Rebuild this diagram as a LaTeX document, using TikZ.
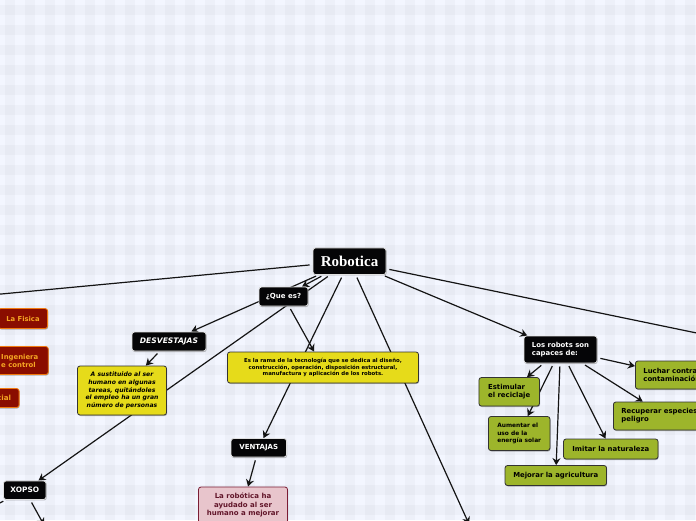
\documentclass[tikz,border=0pt]{standalone}
\usepackage{fontspec}
\setmainfont{DejaVu Sans}
\newfontfamily\rootfont{Liberation Serif}
\usetikzlibrary{arrows.meta,backgrounds,shadows}
\definecolor{plaidbase}{HTML}{F3F6FF}
\definecolor{darkbox}{HTML}{050507}
\definecolor{yellowbox}{HTML}{E6DB1A}
\definecolor{greenbox}{HTML}{9DB52B}
\definecolor{redbox}{HTML}{8A0D00}
\definecolor{redline}{HTML}{F07A10}
\definecolor{redtext}{HTML}{F5A623}
\definecolor{pinkbox}{HTML}{E8C5CC}
\definecolor{pinkline}{HTML}{7A1C34}
\tikzset{
  box/.style={rounded corners=2.5pt,line width=.8pt,inner sep=0pt,align=center,
    drop shadow={shadow xshift=.6pt,shadow yshift=-1pt,opacity=.28,fill=black}},
  blackbox/.style={box,fill=darkbox,draw=white!88!black,text=white},
  yellow box/.style={box,fill=yellowbox,draw=black!80,text=black},
  green box/.style={box,fill=greenbox,draw=black!80,text=black},
  red box/.style={box,fill=redbox,draw=redline,text=redtext},
  pink box/.style={box,fill=pinkbox,draw=pinkline,text=pinkline!80!black},
  smalltext/.style={font=\fontsize{7}{8.6}\selectfont\bfseries},
  conn/.style={draw=black!92,line width=1.2pt,-{Stealth[length=7pt,width=8pt]}},
  plain conn/.style={draw=black!92,line width=1.2pt},
  gap/.style={shorten <=3pt}
}
\begin{document}
\begin{tikzpicture}[x=1pt,y=-1pt]
\useasboundingbox (0,0) rectangle (696,520);
% nodes
\node[blackbox,minimum width=73pt,minimum height=26.5pt,font=\rootfont\fontsize{15}{17}\selectfont\bfseries] (root) at (349.5,261.2) {Robotica};
\node[blackbox,minimum width=49pt,minimum height=19pt,smalltext] (que) at (283.5,296.5) {¿Que es?};
\node[yellow box,minimum width=191pt,minimum height=31pt,font=\fontsize{5.4}{6.8}\selectfont\bfseries] (def) at (323,367.5) {Es la rama de la tecnología que se dedica al diseño,\\construcción, operación, disposición estructural,\\manufactura y aplicación de los robots.};
\node[blackbox,minimum width=74pt,minimum height=19pt,font=\fontsize{7.6}{8}\selectfont\bfseries\itshape] (desv) at (169,341.5) {DESVESTAJAS};
\node[yellow box,minimum width=89pt,minimum height=49pt,font=\fontsize{6.1}{7.6}\selectfont\bfseries\itshape] (sust) at (122,390.5) {A sustituido al ser\\humano en algunas\\tareas, quitándoles\\el empleo ha un gran\\número de personas};
\node[blackbox,minimum width=55.5pt,minimum height=18.5pt,smalltext] (vent) at (258.8,447.8) {VENTAJAS};
\node[pink box,minimum width=89pt,minimum height=36pt,font=\fontsize{7}{8.2}\selectfont\bfseries] (rob) at (243,505) {La robótica ha\\ayudado al ser\\humano a mejorar};
\node[blackbox,minimum width=42.5pt,minimum height=18.5pt,font=\fontsize{7.4}{8.6}\selectfont\bfseries] (xopso) at (24.8,490.2) {XOPSO};
\node[red box,anchor=east,minimum height=20pt,inner xsep=8pt,font=\fontsize{6.8}{8.6}\selectfont\bfseries] (fis) at (48,318.5) {La Fisica};
\node[red box,anchor=east,minimum height=28pt,inner xsep=10pt,align=left,font=\fontsize{6.9}{8}\selectfont\bfseries] (ing) at (48.7,360.5) {Ingeniera\\e control};
\node[red box,anchor=east,minimum height=19pt,inner xsep=8pt,font=\fontsize{7.1}{8.6}\selectfont\bfseries] (cial) at (19.5,398) {cial};
\node[blackbox,minimum width=73pt,minimum height=27pt,font=\fontsize{6.9}{8.2}\selectfont\bfseries,align=left] (los) at (560.5,349.5) {Los robots son\\capaces de:};
\node[green box,anchor=west,minimum height=28pt,inner xsep=8pt,align=left,font=\fontsize{6.9}{8.2}\selectfont\bfseries] (luc) at (635,375) {Luchar contra la\\contaminación};
\node[green box,anchor=west,minimum height=28pt,inner xsep=8pt,align=left,font=\fontsize{6.9}{8.2}\selectfont\bfseries] (rec) at (613,416) {Recuperar especies en\\peligro};
\node[green box,minimum width=60.5pt,minimum height=28.5pt,font=\fontsize{6.9}{8.6}\selectfont\bfseries,align=left] (est) at (509.2,391.8) {Estimular\\el reciclaje};
\node[green box,minimum width=61.5pt,minimum height=34pt,font=\fontsize{5.9}{7.4}\selectfont\bfseries,align=left] (aum) at (519.2,433.5) {Aumentar el\\uso de la\\energía solar};
\node[green box,minimum width=94.5pt,minimum height=20pt,font=\fontsize{6.9}{8}\selectfont\bfseries] (imi) at (610.8,449) {Imitar la naturaleza};
\node[green box,minimum width=101.5pt,minimum height=20pt,font=\fontsize{6.9}{8}\selectfont\bfseries] (mej) at (555.8,475.5) {Mejorar la agricultura};
% free ends
\coordinate (offleft) at (-20,296);
\coordinate (offright) at (716,337);
\coordinate (offbottom) at (469,524);
\coordinate (xdown) at (44,525);
\coordinate (xleft) at (-10,508);
\begin{scope}[on background layer]
\fill[plaidbase] (0,0) rectangle (696,520);
\foreach \i in {0,...,34} \fill[black,opacity=.022] (5+20*\i,0) rectangle (15+20*\i,520);
\foreach \i in {0,...,25} \fill[black,opacity=.022] (0,5+20*\i) rectangle (696,15+20*\i);
\draw[plain conn,gap] (root) -- (offleft);
\draw[plain conn,gap] (root) -- (offright);
\draw[conn,gap] (root) -- (que);
\draw[conn,gap] (root) -- (desv);
\draw[conn,gap] (root) -- (xopso);
\draw[conn,gap] (root) -- (vent);
\draw[conn,gap] (root) -- (offbottom);
\draw[conn,gap] (root) -- (los);
\draw[conn,gap] (que) -- (def);
\draw[conn,gap] (desv) -- (sust);
\draw[conn,gap] (vent) -- (rob);
\draw[conn,gap] (xopso) -- (xdown);
\draw[plain conn,gap] (xopso) -- (xleft);
\draw[conn,gap] (los) -- (luc);
\draw[conn,gap] (los) -- (rec);
\draw[conn,gap] (los) -- (est);
\draw[conn,gap] (los) -- (aum);
\draw[conn,gap] (los) -- (mej);
\draw[conn,gap] (los) -- (imi);
\end{scope}
\end{tikzpicture}
\end{document}
